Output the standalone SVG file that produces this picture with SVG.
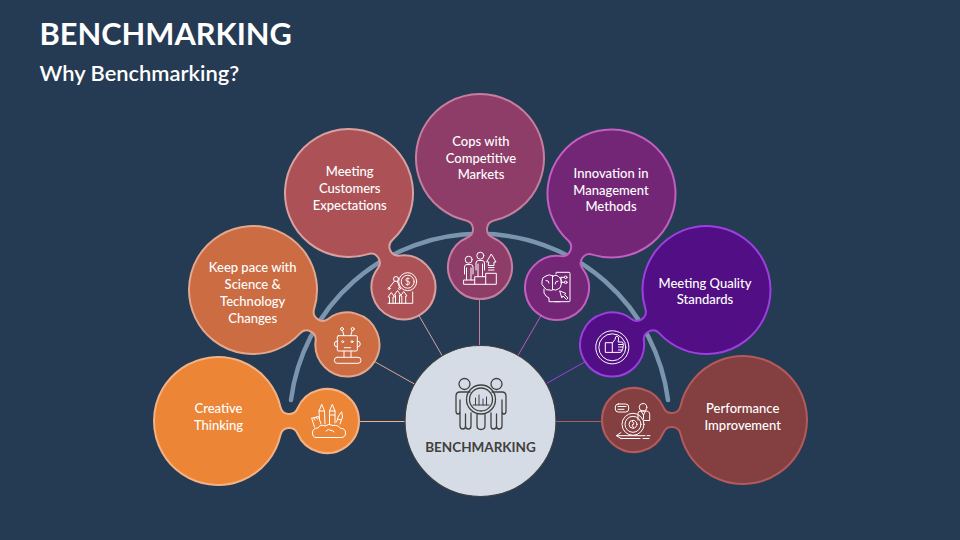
<svg xmlns="http://www.w3.org/2000/svg" width="960" height="540" viewBox="0 0 960 540">
<style>
.t{font-family:Lato,"Liberation Sans",sans-serif;fill:#fff}
.l{font-family:Lato,"Liberation Sans",sans-serif;font-size:13px;font-weight:500;fill:#fff;text-anchor:middle}
.ic{fill:none;stroke:#fff;stroke-width:1;stroke-linecap:round;stroke-linejoin:round}
.dk{fill:none;stroke:#404040;stroke-width:1.3;stroke-linecap:round;stroke-linejoin:round}
.b{stroke-width:2}
.c line{stroke-width:1}
</style>
<defs>
<path id="blob" d="M62.45 14.03A64 64 0 1 1 62.45 -14.03A9 9 0 0 0 79.52 -12.49A32 32 0 1 1 79.52 12.49A9 9 0 0 0 62.45 14.03Z"/>
<g id="person">
<path d="M470 392H460Q456 392 456 396V411Q456 414 458 414Q460 414 460 411V400M460 411V426Q460 429 463 429Q465.5 429 465.5 426V414M465.5 426Q465.5 429 468.5 429Q471 429 471 426V413"/>
</g>
</defs>
<rect width="960" height="540" fill="#253B54"/>
<text class="t" x="39.500" y="45" font-size="30.800" font-weight="700">BENCHMARKING</text>
<text class="t" x="39.500" y="81" font-size="21.900" font-weight="600">Why Benchmarking?</text>

<path d="M291 400A190 190 0 0 1 668 400" fill="none" stroke="#7C95AE" stroke-width="4.500" stroke-linecap="round"/>

<g id="connectors" class="c">
<line x1="480.500" y1="421.500" x2="327" y2="421.500" stroke="#F4B183"/>
<line x1="480" y1="421" x2="347" y2="346" stroke="#E2A78C"/>
<line x1="480" y1="421" x2="403" y2="288" stroke="#D9A0A0"/>
<line x1="479.500" y1="421" x2="479.500" y2="268" stroke="#C77D9E"/>
<line x1="480" y1="421" x2="557" y2="288" stroke="#B95BB9"/>
<line x1="480" y1="421" x2="613" y2="346" stroke="#9D3FE0"/>
<line x1="480.500" y1="421.500" x2="634" y2="421.500" stroke="#B5595A"/>
</g>

<g id="node-creative">
<use href="#blob" class="b" transform="translate(218,421)" fill="#ED8537" stroke="#F4B183"/>
<text class="l" x="218.500" y="413">Creative</text><text class="l" x="218.500" y="430">Thinking</text>
<g class="ic">
<path d="M316 437.500H341Q345.500 437.500 345.500 433Q345.500 428 340.500 428.500Q338 424.500 333 425.500Q329 423 325 426Q320 424 318 428Q312.500 428 312.500 433Q312.500 437.500 316 437.500Z"/>
<path d="M326 431Q328.500 428 331 430.500Q333 430 334 432"/>
<path d="M319.500 420L319 411L321.700 404.300L324.500 411L325 424M319 411H324.500"/>
<path d="M329.500 424V411L332.300 404.300L335 411V423M329.500 411H335M330 415H334.500"/>
<path d="M336.500 422L338.500 416L341.700 411.700L342.500 417L340 424M337.500 419L341 420"/>
<path d="M311.700 418.300L318.500 416.500L321 424M311.700 418.300L314.500 427M314 418L315 420M316.500 417.200L317.300 419"/>
</g>
</g>

<g id="node-science">
<use href="#blob" class="b" transform="translate(253,290) rotate(30)" fill="#CB6C43" stroke="#E2A78C"/>
<text class="l" x="252.700" y="272">Keep pace with</text><text class="l" x="252.700" y="289">Science &amp;</text><text class="l" x="252.700" y="306">Technology</text><text class="l" x="252.700" y="323">Changes</text>
<g class="ic">
<rect x="337.300" y="335.700" width="20" height="15.300" rx="1"/>
<path d="M337.300 341Q334.300 341 334.300 344Q334.300 347 337.300 347M357.300 341Q360.300 341 360.300 344Q360.300 347 357.300 347"/>
<circle cx="342" cy="329" r="1.500"/><circle cx="352.700" cy="329" r="1.500"/>
<path d="M342.500 330.500L344 335.700M352.200 330.500L350.700 335.700"/>
<circle cx="342.700" cy="341.700" r="1"/><circle cx="352" cy="341.700" r="1"/>
<path d="M344.300 347.700H350.700M344 351V357.300M351 351V357.300"/>
<rect x="334.300" y="357.300" width="26.700" height="6" rx="3"/>
</g>
</g>

<g id="node-customers">
<use href="#blob" class="b" transform="translate(349,193) rotate(60)" fill="#AC5257" stroke="#D9A0A0"/>
<text class="l" x="349.700" y="176">Meeting</text><text class="l" x="349.700" y="193">Customers</text><text class="l" x="349.700" y="210">Expectations</text>
<g class="ic">
<circle cx="407.700" cy="281.700" r="9"/><circle cx="407.700" cy="281.700" r="6.500"/>
<text x="407.700" y="285" font-family="Lato,sans-serif" font-size="9" fill="#fff" stroke="none" text-anchor="middle">$</text>
<circle cx="396" cy="279" r="2.500"/>
<path d="M394.500 281L389.500 287.500M397.500 281.500L399.500 287.500"/><circle cx="389" cy="288.500" r="1"/><circle cx="399.500" cy="288.500" r="1"/>
<path d="M389.500 303.300V297H388L391.300 292.500L394.500 297H393V303.300M395.500 303.300V295H394.300L397.500 290.500L400.700 295H399.500V303.300M401.800 303.300V296H400.500L403.700 291.500L407 296H405.700V303.300"/>
<path d="M388 303.300H412.700V292"/>
</g>
</g>

<g id="node-markets">
<use href="#blob" class="b" transform="translate(480,158) rotate(90)" fill="#8D3D68" stroke="#C77D9E"/>
<text class="l" x="481" y="146">Cops with</text><text class="l" x="481" y="162.500">Competitive</text><text class="l" x="481" y="179">Markets</text>
<g class="ic">
<circle cx="468.700" cy="259.700" r="3.500"/><circle cx="480.300" cy="255.700" r="3.500"/>
<path d="M464.500 274V267Q464.500 264.500 467 264.500H470.500Q473 264.500 473 267V274M466.500 280V268M471 280V268"/>
<path d="M476 270V263Q476 260.500 478.500 260.500H482Q484.500 260.500 484.500 263V270M478 276.700V264M482.500 276.700V264"/>
<path d="M464 280H474.700V276.700H485.700V273.300H496.300V284.300H464ZM474.700 280V284.300M485.700 276.700V284.300"/>
<path d="M488.500 262H486.500L491.300 254L496 262H494V265.500H488.500ZM488.500 267.500H494M488.500 270H494"/>
</g>
</g>

<g id="node-innovation">
<use href="#blob" class="b" transform="translate(611.500,193.500) rotate(120)" fill="#732676" stroke="#C25FC0"/>
<text class="l" x="611" y="177.500">Innovation in</text><text class="l" x="611" y="194.500">Management</text><text class="l" x="611" y="211">Methods</text>
<g class="ic">
<path d="M553 276Q549 273.500 546 276Q542 277 542 281Q541 285 544 287Q546 291 550 290Q552 291 553 289.500Q556 291 558 289Q561 288 561 285Q563 281 560 278Q557 274 553 276ZM552.500 276V289.500"/>
<path d="M546 280.500Q549 280 549 283M558 281Q555 281 555 284"/>
<path d="M544 289V293Q546 297 549 298V301.700H560"/>
<path d="M556 274V272.500Q556 272.300 557 272.300H569Q570 272.300 570 273.300V300.700Q570 301.700 569 301.700H555"/>
<path d="M561 277.300H564.500M562 282.300H564.500M561 277.300V283"/><circle cx="565.700" cy="277.300" r="1.300"/><circle cx="565.700" cy="282.300" r="1.300"/>
<path d="M560 291L566 293.500L564.500 294.500L568 298L566.500 299.500L563 296L562 297.500Z"/>
</g>
</g>

<g id="node-quality">
<use href="#blob" class="b" transform="translate(706.500,290) rotate(150)" fill="#520F85" stroke="#9D3FE0"/>
<text class="l" x="705" y="288">Meeting Quality</text><text class="l" x="705" y="304">Standards</text>
<g class="ic">
<circle cx="612.300" cy="347.300" r="16.500" stroke-dasharray="2.600 0.600"/>
<circle cx="612.300" cy="347.300" r="13.500"/>
<rect x="605.700" y="342.700" width="6.600" height="9.700"/>
<path d="M612.300 343L615 339.500Q615.300 336 617 336Q619.300 336.500 618.500 340L618 342H622Q623.800 342.500 623 344.500Q624 346 622.800 347Q623.500 349 622 350Q622.300 352.400 620 352.400H612.300M618.500 344.500H623M618.500 347H622.800M618.500 350H622"/>
</g>
</g>

<g id="node-performance">
<use href="#blob" class="b" transform="translate(743,420) rotate(180)" fill="#843F41" stroke="#B5595A"/>
<text class="l" x="742.700" y="413">Performance</text><text class="l" x="742.700" y="430">Improvement</text>
<g class="ic">
<rect x="615.300" y="404" width="13.400" height="8" rx="3"/>
<path d="M618 406.500H626M618 409.300H624"/>
<circle cx="643" cy="407.300" r="3.800"/>
<path d="M638 420V413.500Q638 411 641 411H645.500Q649.700 411 649.700 414.500V420.500H644M641 411L643.500 415L645.500 411M643.500 415V419"/>
<circle cx="633" cy="424.300" r="11"/><circle cx="633" cy="424.300" r="8"/><circle cx="633" cy="424.300" r="4"/>
<path d="M632.500 421.500L634 424L632 425L633.500 427.500"/>
<path d="M645 435.700H617M621 432.500L616.300 435.700L621 438.500M621 438.500H640M643 438.500H649M647 435.700H650"/>
</g>
</g>

<g id="node-center">
<circle cx="480.500" cy="421" r="75.500" fill="#D6DCE5" stroke="#404040" stroke-width="1.200"/>
<g class="dk">
<circle cx="464.500" cy="384" r="5.500"/><circle cx="496.500" cy="384" r="5.500"/>
<use href="#person"/>
<use href="#person" transform="translate(962,0) scale(-1,1)"/>
<circle cx="481" cy="399.500" r="14.500"/><circle cx="481" cy="399.500" r="11.500"/>
<path d="M477 414.500V425.500Q477 429.500 481 429.500Q485 429.500 485 425.500V414.500"/>
<path d="M473 405H489M475.500 405V398M479 405V395M483 405V399M486.500 405V397" stroke-width="1"/>
</g>
<text class="t" x="480.500" y="452" font-size="13.500" font-weight="700" text-anchor="middle" style="fill:#404040">BENCHMARKING</text>
</g>
</svg>
